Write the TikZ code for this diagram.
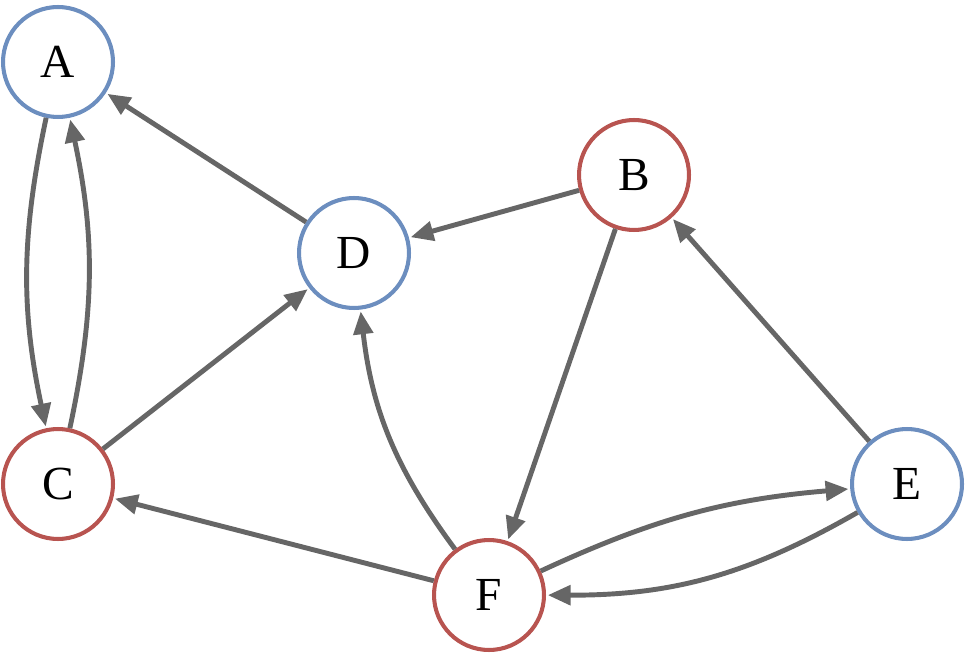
\documentclass[tikz,border=0pt]{standalone}
\usepackage{fontspec}
\setmainfont{Liberation Serif}
\usetikzlibrary{arrows.meta}
\definecolor{bl}{HTML}{6C8EBF}
\definecolor{rd}{HTML}{B85450}
\definecolor{ed}{HTML}{666666}
\tikzset{
 vtx/.style={circle,draw,line width=2.3pt,minimum size=2.2cm,inner sep=0pt,font=\fontsize{27}{30}\selectfont,fill=white},
 bv/.style={vtx,draw=bl}, rv/.style={vtx,draw=rd},
 ar/.style={draw=ed,line width=2.8pt,-{Triangle[length=13pt,width=11pt]},shorten >=1pt}
}
\begin{document}
\begin{tikzpicture}[x=0.02cm,y=-0.02cm]
\useasboundingbox (0,0) rectangle (969,658);
\node[bv] (A) at (58,62) {A};
\node[rv] (B) at (634,175) {B};
\node[bv] (D) at (354,253) {D};
\node[rv] (C) at (58,484) {C};
\node[bv] (E) at (907,484) {E};
\node[rv] (F) at (489,595) {F};
\draw[ar] (A) to[bend right=12] (C);
\draw[ar] (C) to[bend right=12] (A);
\draw[ar] (D) -- (A);
\draw[ar] (B) -- (D);
\draw[ar] (B) -- (F);
\draw[ar] (E) -- (B);
\draw[ar] (C) -- (D);
\draw[ar] (F) -- (C);
\draw[ar] (F) to[bend left=15] (D);
\draw[ar] (F) to[bend left=10] (E);
\draw[ar] (E) to[bend left=15] (F);
\end{tikzpicture}
\end{document}
